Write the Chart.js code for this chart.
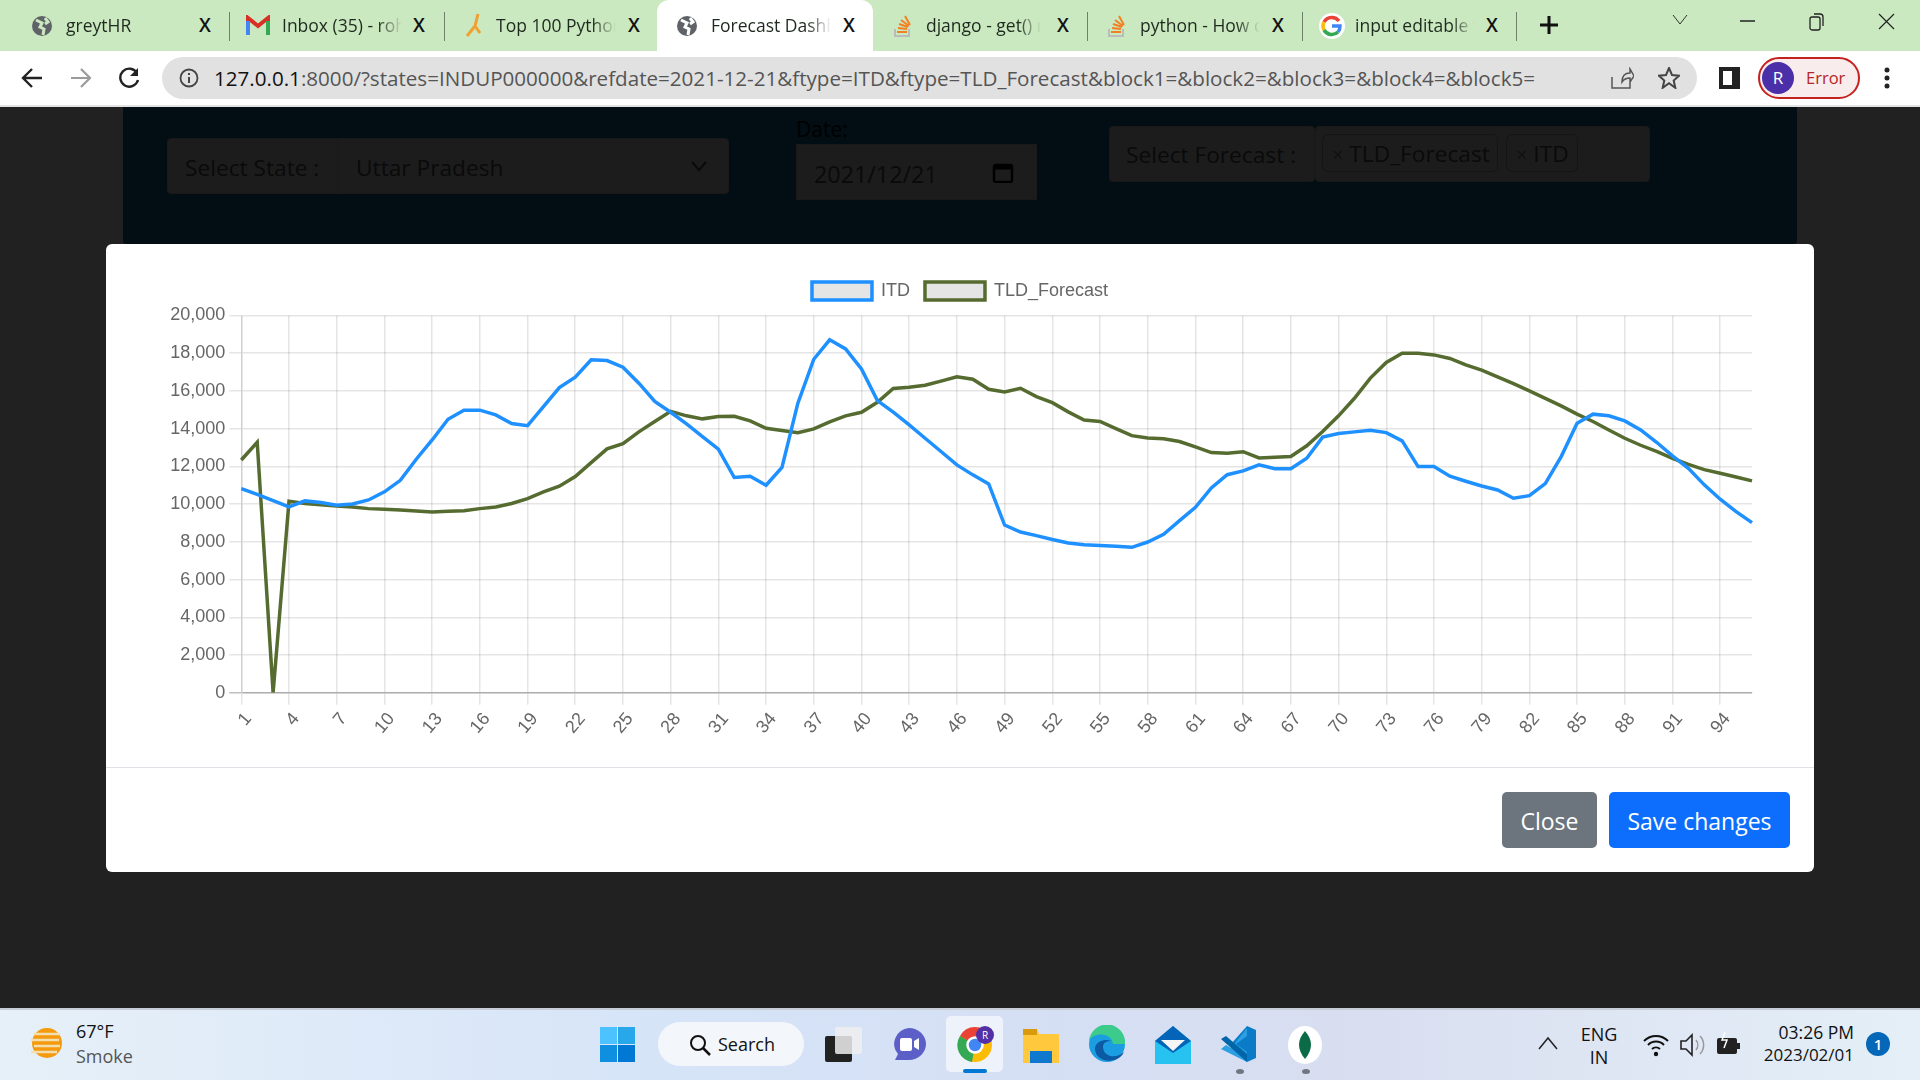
<!DOCTYPE html>
<html><head><meta charset="utf-8">
<style>
html,body{margin:0;padding:0;width:1920px;height:1080px;overflow:hidden;background:#212121;font-family:"Open Sans","Noto Sans",sans-serif}
.a{position:absolute;white-space:nowrap}
.tab{font-size:17.5px;color:#1f2a1f;line-height:24px;overflow:hidden;-webkit-mask-image:linear-gradient(90deg,#000 80%,transparent)}
.x{font-size:19px;font-weight:600;color:#111;line-height:24px;top:13px;margin-left:1px}
.sep{top:12px;width:1px;height:29px;background:#6f7f6a}
.form{color:#0a0a0a;font-size:22.7px;line-height:32px}
.box{background:#1c1c1c;border:1px solid #191919;box-sizing:border-box;border-radius:4px}
.tb{font-size:18px;line-height:24px;color:#111}
</style></head><body>
<!-- tab strip -->
<div class="a" style="left:0;top:0;width:1920px;height:51px;background:#cbe9c0"></div>
<div class="a" style="left:657px;top:0;width:216px;height:51px;background:#fff;border-radius:12px 12px 0 0"></div>
<svg class="a" style="left:30px;top:14px" width="24" height="24"><circle cx="12" cy="12" r="10" fill="#5f6368"/><path d="M6 6l6 3-2 4 4 2-1 6M15 4l3 4-3 2" stroke="#cbe9c0" stroke-width="3" fill="none"/></svg>
<div class="a tab" style="left:66px;top:13px;width:130px">greytHR</div><div class="a x" style="left:198px">X</div><div class="a sep" style="left:229px"></div>
<svg class="a" style="left:246px;top:15px" width="24" height="22"><path d="M2 20V3l10 8 10-8v17" fill="none" stroke="#d93025" stroke-width="4"/><path d="M2 20V6" stroke="#4285f4" stroke-width="4"/><path d="M22 20V6" stroke="#34a853" stroke-width="4"/></svg>
<div class="a tab" style="left:282px;top:13px;width:120px">Inbox (35) - rohit</div><div class="a x" style="left:412px">X</div><div class="a sep" style="left:444px"></div>
<svg class="a" style="left:462px;top:13px" width="24" height="26"><path d="M16 1l-3 12-8 10M13 13l5 7" stroke="#f0a030" stroke-width="3" fill="none"/></svg>
<div class="a tab" style="left:496px;top:13px;width:120px">Top 100 Python</div><div class="a x" style="left:627px">X</div>
<svg class="a" style="left:675px;top:14px" width="24" height="24"><circle cx="12" cy="12" r="10" fill="#5f6368"/><path d="M6 6l6 3-2 4 4 2-1 6M15 4l3 4-3 2" stroke="#fff" stroke-width="3" fill="none"/></svg>
<div class="a tab" style="left:711px;top:13px;width:120px">Forecast Dashboard</div><div class="a x" style="left:842px">X</div>
<svg class="a" style="left:892px;top:14px" width="22" height="24"><path d="M3 15v7h14v-7" stroke="#bcbbbb" stroke-width="2" fill="none"/><path d="M5 18h10M6 14l9 1M7 10l9 3M9 6l8 6M13 2l5 9" stroke="#f48024" stroke-width="2"/></svg>
<div class="a tab" style="left:926px;top:13px;width:115px">django - get() returned</div><div class="a x" style="left:1056px">X</div><div class="a sep" style="left:1087px"></div>
<svg class="a" style="left:1106px;top:14px" width="22" height="24"><path d="M3 15v7h14v-7" stroke="#bcbbbb" stroke-width="2" fill="none"/><path d="M5 18h10M6 14l9 1M7 10l9 3M9 6l8 6M13 2l5 9" stroke="#f48024" stroke-width="2"/></svg>
<div class="a tab" style="left:1140px;top:13px;width:120px">python - How can</div><div class="a x" style="left:1271px">X</div><div class="a sep" style="left:1302px"></div>
<svg class="a" style="left:1319px;top:13px" width="26" height="26"><circle cx="13" cy="13" r="13" fill="#fff"/><path d="M20 8a9 9 0 0 0-15 1" stroke="#ea4335" stroke-width="3.5" fill="none"/><path d="M5 9a9 9 0 0 0 0 8" stroke="#fbbc05" stroke-width="3.5" fill="none"/><path d="M5 17a9 9 0 0 0 14 2" stroke="#34a853" stroke-width="3.5" fill="none"/><path d="M19 19a9 9 0 0 0 2-6h-8" stroke="#4285f4" stroke-width="3.5" fill="none"/></svg>
<div class="a tab" style="left:1355px;top:13px;width:120px">input editable text</div><div class="a x" style="left:1485px">X</div><div class="a sep" style="left:1516px"></div>
<svg class="a" style="left:1539px;top:15px" width="20" height="20"><path d="M10 1v18M1 10h18" stroke="#111" stroke-width="3"/></svg>
<svg class="a" style="left:1672px;top:14px" width="16" height="12"><path d="M1 1l7 9 7-9" stroke="#333" fill="none"/></svg>
<svg class="a" style="left:1740px;top:18px" width="16" height="6"><path d="M0 3h15" stroke="#222" stroke-width="1.5"/></svg>
<svg class="a" style="left:1809px;top:13px" width="16" height="18"><rect x="1" y="4" width="10" height="13" rx="2" fill="none" stroke="#222" stroke-width="1.3"/><path d="M5 1h6a3 3 0 0 1 3 3v9" fill="none" stroke="#222" stroke-width="1.3"/></svg>
<svg class="a" style="left:1878px;top:13px" width="17" height="17"><path d="M1 1l15 15M16 1L1 16" stroke="#222" stroke-width="1.2"/></svg>
<!-- toolbar -->
<div class="a" style="left:0;top:51px;width:1920px;height:54px;background:#fff"></div>
<div class="a" style="left:0;top:105px;width:1920px;height:2px;background:#e3e3e3"></div>
<svg class="a" style="left:21px;top:67px" width="22" height="22"><path d="M21 11H2M11 2l-9 9 9 9" fill="none" stroke="#222" stroke-width="2.4"/></svg>
<svg class="a" style="left:70px;top:67px" width="22" height="22"><path d="M1 11h19M11 2l9 9-9 9" fill="none" stroke="#9b9b9b" stroke-width="2.2"/></svg>
<svg class="a" style="left:118px;top:67px" width="22" height="22"><path d="M19 6a9 9 0 1 0 1 7" fill="none" stroke="#222" stroke-width="2.4"/><path d="M20 1v8h-8z" fill="#222"/></svg>
<div class="a" style="left:162px;top:57px;width:1535px;height:42px;background:#e1e1e1;border-radius:21px"></div>
<svg class="a" style="left:179px;top:68px" width="20" height="20"><circle cx="10" cy="10" r="8.5" fill="none" stroke="#444" stroke-width="1.8"/><path d="M10 9v6M10 5v2" stroke="#444" stroke-width="2"/></svg>
<div class="a" id="url" style="left:214px;top:64px;font-size:20.6px;line-height:28px;color:#555"><span style="color:#111">127.0.0.1</span>:8000/?states=INDUP000000&amp;refdate=2021-12-21&amp;ftype=ITD&amp;ftype=TLD_Forecast&amp;block1=&amp;block2=&amp;block3=&amp;block4=&amp;block5=</div>
<svg class="a" style="left:1610px;top:67px" width="24" height="22"><path d="M2 10v11h18v-6M12 15c0-7 4-9 8-9V2l4 7-4 6v-4c-4 0-6 1-8 4z" fill="none" stroke="#555" stroke-width="1.5"/></svg>
<svg class="a" style="left:1658px;top:67px" width="22" height="22"><path d="M11 1l3 7 7 .7-5.3 4.8 1.6 7.3L11 16.2 4.700 20.800l1.600-7.300L1 8.700 8 8z" fill="none" stroke="#444" stroke-width="2"/></svg>
<div class="a" style="left:1719px;top:67px;width:21px;height:22px;border:4px solid #222;border-right-width:8px;box-sizing:border-box"></div>
<div class="a" style="left:1758px;top:57px;width:102px;height:42px;box-sizing:border-box;border:2px solid #c5221f;border-radius:21px;background:#f9ecec"></div>
<div class="a" style="left:1762px;top:62px;width:32px;height:32px;border-radius:50%;background:#4a2fa8;color:#fff;text-align:center;font-size:17px;line-height:32px">R</div>
<div class="a" style="left:1806px;top:65px;font-size:16.5px;line-height:26px;color:#b3261e">Error</div>
<svg class="a" style="left:1883px;top:66px" width="8" height="24"><circle cx="4" cy="4" r="2.500" fill="#222"/><circle cx="4" cy="12" r="2.500" fill="#222"/><circle cx="4" cy="20" r="2.500" fill="#222"/></svg>
<!-- dimmed page -->
<div class="a" style="left:123px;top:107px;width:1674px;height:137px;background:#020e13;border-radius:0 0 4px 4px"></div>
<div class="a box" style="left:167px;top:138px;width:562px;height:56px"></div>
<div class="a" style="left:337px;top:138px;width:1px;height:56px;background:#191919"></div>
<div class="a form" style="left:185px;top:152px">Select State :</div>
<div class="a form" style="left:356px;top:152px">Uttar Pradesh</div>
<svg class="a" style="left:690px;top:160px" width="18" height="12"><path d="M2 2l7 8 7-8" fill="none" stroke="#0a0a0a" stroke-width="2"/></svg>
<div class="a form" style="left:796px;top:113px;font-size:21px;color:#000">Date:</div>
<div class="a box" style="left:796px;top:144px;width:241px;height:56px;border-radius:0"></div>
<div class="a form" style="left:814px;top:158px;font-size:23.3px">2021/12/21</div>
<svg class="a" style="left:992px;top:161px" width="22" height="22"><rect x="2" y="4" width="18" height="17" rx="2" fill="none" stroke="#000" stroke-width="2.500"/><path d="M2 6h18" stroke="#000" stroke-width="5"/></svg>
<div class="a box" style="left:1109px;top:126px;width:206px;height:56px"></div>
<div class="a box" style="left:1315px;top:126px;width:335px;height:56px"></div>
<div class="a form" style="left:1126px;top:139px">Select Forecast :</div>
<div class="a box" style="left:1322px;top:134px;width:176px;height:38px;border-color:#151515;border-radius:6px"></div>
<div class="a box" style="left:1506px;top:134px;width:72px;height:38px;border-color:#151515;border-radius:6px"></div>
<div class="a form" style="left:1332px;top:138px"><span style="color:#111;font-size:20px">×</span> TLD_Forecast</div>
<div class="a form" style="left:1516px;top:138px"><span style="color:#111;font-size:20px">×</span> ITD</div>
<!-- modal -->
<div class="a" style="left:106px;top:244px;width:1708px;height:628px;background:#fff;border-radius:6px"></div>
<div class="a" style="left:106px;top:767px;width:1708px;height:1px;background:#dee2e6"></div>
<div class="a" style="left:1502px;top:792px;width:95px;height:56px;background:#6c757d;border-radius:5px;color:#fff;font-size:23px;line-height:58px;text-align:center">Close</div>
<div class="a" style="left:1609px;top:792px;width:181px;height:56px;background:#0d6efd;border-radius:5px;color:#fff;font-size:23px;line-height:58px;text-align:center">Save changes</div>
<div class="a" style="left:152px;top:267px;width:1608px;height:493px"><canvas id="chart" width="1608" height="493" style="display:block;width:1608px;height:493px"></canvas></div>
<!-- taskbar -->
<div class="a" style="left:0;top:1008px;width:1920px;height:72px;background:linear-gradient(90deg,#e6f0f8 0%,#d6e4f8 35%,#d5dff4 55%,#d8def0 70%,#e4eff7 100%);border-top:2px solid #c6cdd6;box-sizing:border-box"></div>
<svg class="a" style="left:28px;top:1025px" width="36" height="36"><ellipse cx="19" cy="18" rx="15" ry="15" fill="#f59a0c"/><path d="M6 9h26M3 15h28M6 21h26M3 27h26" stroke="#f2dfb0" stroke-width="2.500"/></svg>
<div class="a tb" style="left:76px;top:1019px">67°F</div>
<div class="a tb" style="left:76px;top:1044px;color:#555">Smoke</div>
<svg class="a" style="left:600px;top:1027px" width="35" height="35"><rect width="17" height="17" fill="#4cc2ff"/><rect x="18" width="17" height="17" fill="#28a8ea"/><rect y="18" width="17" height="17" fill="#0f8fe0"/><rect x="18" y="18" width="17" height="17" fill="#0078d4"/></svg>
<div class="a" style="left:658px;top:1022px;width:146px;height:44px;border-radius:22px;background:#f3f6fb"></div>
<svg class="a" style="left:689px;top:1034px" width="22" height="22"><circle cx="9" cy="9" r="7" fill="none" stroke="#111" stroke-width="2"/><path d="M14 14l7 7" stroke="#111" stroke-width="2.500"/></svg>
<div class="a tb" style="left:718px;top:1032px">Search</div>
<svg class="a" style="left:825px;top:1027px" width="38" height="36"><rect x="0" y="9" width="27" height="26" rx="2" fill="#222"/><rect x="10" y="0" width="27" height="27" rx="2" fill="#eee" opacity=".85"/></svg>
<svg class="a" style="left:891px;top:1027px" width="36" height="36"><path d="M18 1a17 16 0 0 1 0 32H4l3-6a17 16 0 0 1 11-26z" fill="#5b5fc7"/><rect x="9" y="11" width="12" height="13" rx="2" fill="#fff"/><path d="M23 14l5-3v12l-5-3z" fill="#fff"/></svg>
<div class="a" style="left:946px;top:1016px;width:57px;height:56px;background:#eef2fb;border-radius:5px"></div>
<svg class="a" style="left:957px;top:1027px" width="36" height="36"><circle cx="18" cy="18" r="17" fill="#fbbc05"/><path d="M18 18L3 9a17 17 0 0 1 30 0z" fill="#ea4335"/><path d="M18 18L3 9a17 17 0 0 0 12 26z" fill="#34a853"/><circle cx="18" cy="18" r="7.500" fill="#4285f4" stroke="#fff" stroke-width="2.500"/></svg>
<div class="a" style="left:976px;top:1026px;width:18px;height:18px;border-radius:50%;background:#5330a6;color:#fff;font-size:10px;line-height:18px;text-align:center">R</div>
<div class="a" style="left:963px;top:1069px;width:24px;height:4px;border-radius:2px;background:#0078d4"></div>
<svg class="a" style="left:1023px;top:1027px" width="36" height="36"><path d="M0 2h14l2 5h20v29H0z" fill="#ffc83d"/><path d="M0 2h14v6H0z" fill="#d99a0b"/><rect x="7" y="24" width="22" height="12" fill="#0e78cf"/></svg>
<svg class="a" style="left:1089px;top:1025px" width="36" height="38"><circle cx="18" cy="19" r="18" fill="#1b9de2"/><path d="M36 19a18 18 0 0 0-36-3c3-8 22-10 24 3z" fill="#3ccb8b"/><path d="M14 22c0 9 12 13 21 5-5 12-28 12-29-3 0-7 9-11 16-8-5 0-8 2-8 6z" fill="#0c59a4"/></svg>
<svg class="a" style="left:1155px;top:1026px" width="36" height="38"><path d="M18 0L0 15v23h36V15z" fill="#28c2f0"/><path d="M18 0L0 15l18 12 18-12z" fill="#0364b8"/><path d="M6 14h24L18 25z" fill="#f5f5f5"/></svg>
<svg class="a" style="left:1220px;top:1025px" width="37" height="38"><path d="M27 1L11 19l16 18 9-4V5z" fill="#0a7cc7"/><path d="M27 1v10L16 19l11 8v10L1 24l5-4 5 3 16-20z" fill="#2c9fe3"/><path d="M1 14l5-3 21 18v8L1 14z" fill="#0065a9"/></svg>
<div class="a" style="left:1288px;top:1026px;width:34px;height:38px;background:#fff;border-radius:50%"></div>
<svg class="a" style="left:1298px;top:1031px" width="14" height="28"><path d="M7 0c8 9 8 18 0 28C-1 18-1 9 7 0z" fill="#0b6b46"/></svg>
<div class="a" style="left:1236px;top:1069px;width:8px;height:5px;border-radius:50%;background:#6f7680"></div>
<div class="a" style="left:1302px;top:1069px;width:8px;height:5px;border-radius:50%;background:#6f7680"></div>
<svg class="a" style="left:1538px;top:1036px" width="20" height="14"><path d="M1 13l9-11 9 11" fill="none" stroke="#222" stroke-width="1.500"/></svg>
<div class="a tb" style="left:1564px;top:1022px;width:70px;text-align:center">ENG</div>
<div class="a tb" style="left:1564px;top:1045px;width:70px;text-align:center">IN</div>
<svg class="a" style="left:1643px;top:1033px" width="26" height="24"><path d="M1 8a17 17 0 0 1 24 0M5 12a11 11 0 0 1 16 0M9 16a6 6 0 0 1 8 0" fill="none" stroke="#111" stroke-width="2"/><circle cx="13" cy="21" r="2.200" fill="#111"/></svg>
<svg class="a" style="left:1679px;top:1033px" width="26" height="24"><path d="M2 8h5l6-6v20l-6-6H2z" fill="none" stroke="#222" stroke-width="1.600"/><path d="M17 7a8 8 0 0 1 0 10M21 3a13 13 0 0 1 0 18" fill="none" stroke="#999" stroke-width="1.500"/></svg>
<svg class="a" style="left:1715px;top:1032px" width="26" height="24"><rect x="2" y="6" width="20" height="16" rx="2" fill="#222"/><rect x="22" y="11" width="3" height="6" fill="#222"/><path d="M10 0l-3 8h5l-3 8" stroke="#fff" stroke-width="1.500" fill="none"/></svg>
<div class="a tb" style="left:1754px;top:1020px;width:100px;text-align:right;font-size:17.5px">03:26 PM</div>
<div class="a tb" style="left:1734px;top:1043px;width:120px;text-align:right;font-size:17px">2023/02/01</div>
<div class="a" style="left:1866px;top:1032px;width:24px;height:24px;border-radius:50%;background:#0567b8;color:#fff;font-size:15px;font-weight:600;line-height:24px;text-align:center">1</div>
<script src="https://cdn.jsdelivr.net/npm/chart.js@4/dist/chart.umd.min.js"></script>
<script>
const categories = [1,2,3,4,5,6,7,8,9,10,11,12,13,14,15,16,17,18,19,20,21,22,23,24,25,26,27,28,29,30,31,32,33,34,35,36,37,38,39,40,41,42,43,44,45,46,47,48,49,50,51,52,53,54,55,56,57,58,59,60,61,62,63,64,65,66,67,68,69,70,71,72,73,74,75,76,77,78,79,80,81,82,83,84,85,86,87,88,89,90,91,92,93,94,95,96];
const itd = [10820,10520,10190,9850,10170,10080,9940,10010,10220,10650,11260,12380,13400,14500,14980,14980,14730,14270,14160,15170,16180,16730,17650,17610,17260,16410,15440,14870,14250,13580,12910,11410,11480,11000,11950,15350,17680,18710,18230,17170,15490,14880,14200,13490,12790,12080,11550,11070,8890,8520,8330,8120,7940,7850,7800,7760,7710,7990,8400,9120,9830,10860,11560,11760,12080,11880,11870,12430,13550,13740,13830,13920,13790,13350,11990,11990,11480,11210,10960,10750,10310,10450,11090,12520,14290,14770,14680,14410,13930,13280,12560,11900,11020,10260,9600,9020];
const tldForecast = [12340,13280,0,10150,10030,9970,9900,9850,9760,9730,9690,9640,9580,9620,9650,9760,9850,10030,10290,10650,10950,11460,12200,12930,13210,13830,14380,14920,14680,14520,14640,14660,14410,14020,13900,13790,13990,14360,14680,14870,15400,16130,16200,16300,16520,16750,16620,16090,15950,16140,15700,15380,14890,14460,14380,14000,13630,13510,13470,13320,13030,12730,12700,12780,12450,12480,12520,13090,13850,14680,15610,16680,17510,18000,18000,17910,17720,17380,17100,16750,16390,16000,15610,15210,14770,14380,13930,13490,13120,12790,12430,12110,11830,11640,11440,11230];
const seriesNames = ['ITD','TLD_Forecast'];
const gridColor = 'rgba(0,0,0,0.1)';
const font = {family:'"Liberation Sans",Arial,sans-serif',size:18};
const legendGap = {id:'legendGap',beforeInit(chart){const fit=chart.legend.fit;chart.legend.fit=function(){fit.call(this);this.height+=5.5;};}};
new Chart(document.getElementById('chart'),{
  type:'line',
  plugins:[legendGap],
  data:{labels:categories,datasets:[
    {label:seriesNames[0],data:itd,borderColor:'#1e90ff',backgroundColor:'rgba(0,0,0,0.1)',borderWidth:3.5,pointRadius:0,tension:0,fill:false},
    {label:seriesNames[1],data:tldForecast,borderColor:'#556b2f',backgroundColor:'rgba(0,0,0,0.1)',borderWidth:3.5,pointRadius:0,tension:0,fill:false}
  ]},
  options:{
    responsive:false,animation:false,devicePixelRatio:1,
    layout:{padding:{left:16,right:8,top:0,bottom:0}},
    plugins:{tooltip:{enabled:false},legend:{display:true,labels:{font,color:'#666',boxWidth:60,boxHeight:18,padding:15}}},
    scales:{
      x:{
        grid:{color:gridColor,lineWidth:1.5,tickLength:12},border:{color:gridColor,width:1.5},
        afterBuildTicks(s){s.ticks=s.ticks.filter((t,i)=>i%3===0);},
        afterFit(s){s.height=67.3;},
        ticks:{font,color:'#666',autoSkip:false,minRotation:50,maxRotation:50,padding:4,labelOffset:7}
      },
      y:{
        min:0,max:20000,
        grid:{color:c=>c.tick.value===0?'rgba(0,0,0,0.25)':gridColor,lineWidth:1.5,tickLength:12},border:{color:gridColor,width:1.5},
        afterFit(s){s.width=73.3;},
        ticks:{font,color:'#666',stepSize:2000,padding:4,callback:v=>v.toLocaleString('en-US')}
      }
    }
  }
});
</script>
</body></html>
